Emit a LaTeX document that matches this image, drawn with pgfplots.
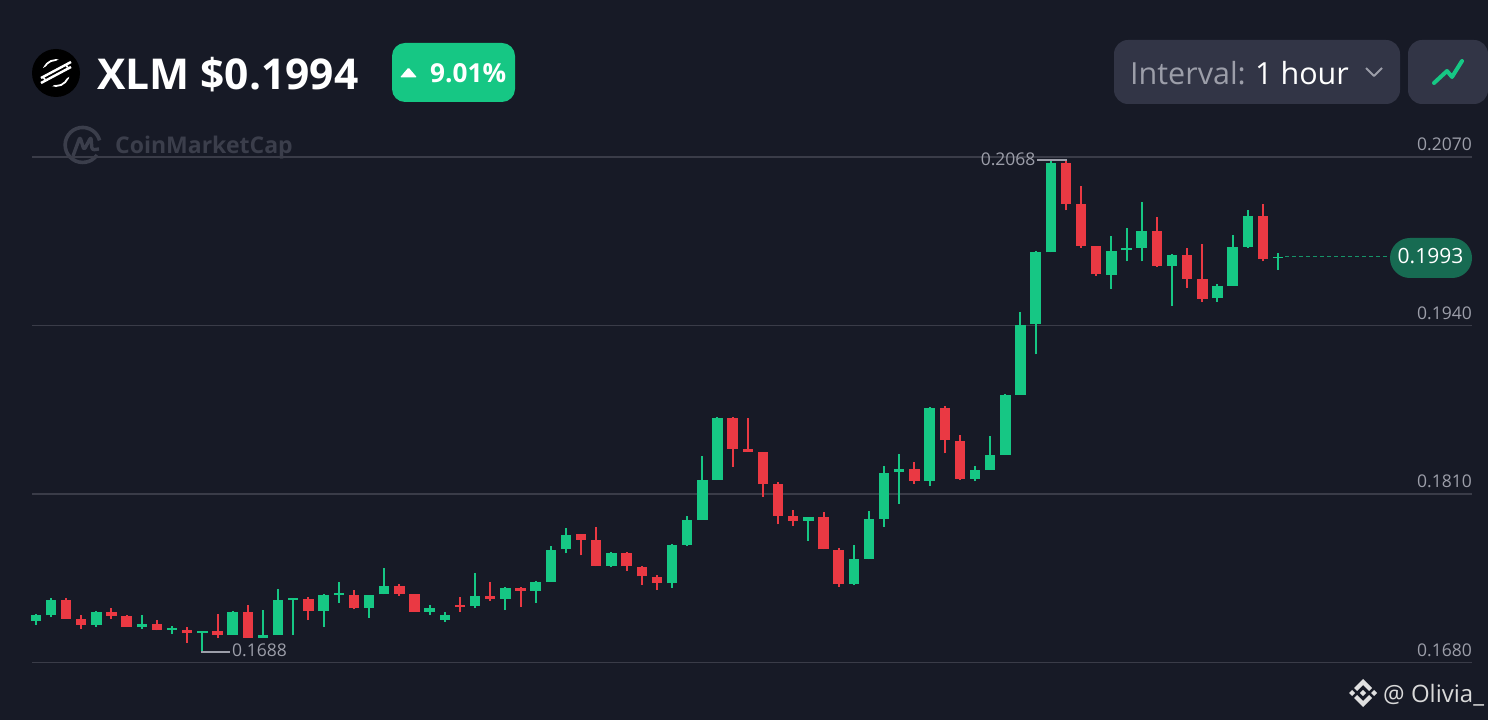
\documentclass[border=0pt]{standalone}
\usepackage{fontspec}
\setmainfont{Open Sans}
\usepackage{pgfplots}
\usepackage{pgfplotstable}
\pgfplotsset{compat=1.18}
\definecolor{bg}{HTML}{171A26}
\definecolor{up}{HTML}{16C784}
\definecolor{down}{HTML}{EA3943}
\definecolor{gridc}{HTML}{3A3C48}
\definecolor{muted}{HTML}{9C9EA9}
\definecolor{btn}{HTML}{323546}
\definecolor{wm}{HTML}{3B3E4B}
\definecolor{pill}{HTML}{176B52}
\pgfplotstableread{
x bb bt wb wt
0 0.17122 0.17164 0.17092 0.17174
1 0.17164 0.17280 0.17149 0.17295
4 0.17092 0.17187 0.17076 0.17197
7 0.17072 0.17095 0.17061 0.17164
9 0.17053 0.17066 0.17022 0.17082
11 0.17028 0.17043 0.16880 0.17043
13 0.17012 0.17190 0.17012 0.17195
15 0.16989 0.17010 0.16989 0.17205
16 0.17012 0.17280 0.17012 0.17367
17 0.17282 0.17295 0.17012 0.17295
19 0.17197 0.17321 0.17076 0.17326
20 0.17323 0.17336 0.17261 0.17419
22 0.17220 0.17323 0.17143 0.17323
23 0.17326 0.17388 0.17326 0.17527
26 0.17190 0.17223 0.17169 0.17246
27 0.17128 0.17164 0.17112 0.17190
29 0.17234 0.17313 0.17220 0.17488
31 0.17290 0.17372 0.17205 0.17385
33 0.17354 0.17421 0.17261 0.17426
34 0.17421 0.17668 0.17421 0.17699
35 0.17673 0.17786 0.17642 0.17835
38 0.17547 0.17647 0.17534 0.17655
42 0.17411 0.17709 0.17377 0.17714
43 0.17707 0.17897 0.17701 0.17928
44 0.17902 0.18206 0.17902 0.18397
45 0.18208 0.18684 0.18208 0.18696
51 0.17894 0.17925 0.17740 0.17925
54 0.17406 0.17601 0.17396 0.17707
55 0.17601 0.17905 0.17596 0.17969
56 0.17909 0.18264 0.17848 0.18316
57 0.18267 0.18295 0.18025 0.18406
59 0.18203 0.18761 0.18164 0.18769
62 0.18218 0.18283 0.18200 0.18316
63 0.18285 0.18399 0.18285 0.18547
64 0.18399 0.18866 0.18399 0.18871
65 0.18866 0.19406 0.18866 0.19506
66 0.19412 0.19965 0.19178 0.19977
67 0.19965 0.20654 0.19965 0.20669
71 0.19792 0.19977 0.19684 0.20090
72 0.19980 0.19996 0.19895 0.20150
73 0.20000 0.20127 0.19895 0.20351
75 0.19861 0.19942 0.19553 0.19949
78 0.19610 0.19705 0.19584 0.19718
79 0.19707 0.20006 0.19707 0.20098
80 0.20008 0.20243 0.20000 0.20289
82 0.19923 0.19931 0.19831 0.19957
}\greentable
\pgfplotstableread{
x bb bt wb wt
2 0.17136 0.17282 0.17136 0.17295
3 0.17092 0.17133 0.17061 0.17164
5 0.17159 0.17190 0.17136 0.17218
6 0.17072 0.17156 0.17072 0.17164
8 0.17053 0.17095 0.17048 0.17126
10 0.17025 0.17051 0.16953 0.17076
12 0.17012 0.17043 0.16989 0.17174
14 0.16991 0.17187 0.16991 0.17246
18 0.17197 0.17292 0.17126 0.17305
21 0.17220 0.17321 0.17210 0.17357
24 0.17331 0.17388 0.17315 0.17406
25 0.17192 0.17331 0.17192 0.17331
28 0.17231 0.17244 0.17192 0.17308
30 0.17290 0.17313 0.17274 0.17419
32 0.17354 0.17375 0.17231 0.17385
36 0.17747 0.17789 0.17627 0.17794
37 0.17547 0.17745 0.17542 0.17848
39 0.17542 0.17647 0.17508 0.17655
40 0.17465 0.17539 0.17398 0.17545
41 0.17413 0.17460 0.17359 0.17473
46 0.18447 0.18684 0.18311 0.18696
47 0.18424 0.18445 0.18424 0.18686
48 0.18177 0.18424 0.18079 0.18426
49 0.17930 0.18175 0.17866 0.18195
50 0.17894 0.17930 0.17853 0.17974
52 0.17673 0.17925 0.17673 0.17959
53 0.17408 0.17670 0.17385 0.17683
58 0.18200 0.18293 0.18179 0.18347
60 0.18514 0.18761 0.18414 0.18779
61 0.18216 0.18511 0.18210 0.18557
68 0.20340 0.20654 0.20289 0.20680
69 0.20013 0.20335 0.20000 0.20479
70 0.19795 0.20011 0.19780 0.20016
74 0.19861 0.20127 0.19854 0.20239
76 0.19761 0.19942 0.19692 0.19998
77 0.19607 0.19759 0.19584 0.20029
81 0.19913 0.20243 0.19895 0.20337
}\redtable
\newcommand{\candles}[2]{%
  \addplot[draw=none,mark=none,forget plot,error bars/.cd,y dir=plus,y explicit,error mark=none,
    error bar style={line width=2pt,color=#2}]
    table[x=x,y=wb,y error plus expr=\thisrow{wt}-\thisrow{wb}] {#1};
  \addplot[draw=none,mark=none,forget plot,error bars/.cd,y dir=plus,y explicit,error mark=none,
    error bar style={line width=10.4pt,color=#2}]
    table[x=x,y=bb,y error plus expr=\thisrow{bt}-\thisrow{bb}] {#1};
}
\begin{document}
\begin{tikzpicture}
\path[use as bounding box,fill=bg] (0,0) rectangle (1488pt,720pt);
\begin{scope}[x=1pt,y=-1pt,shift={(0pt,720pt)}]
  % watermark
  \draw[wm,line width=3.6pt] (97,155) arc[start angle=35,end angle=345,radius=17.5];
  \draw[wm,line width=3.4pt,line join=round,rounded corners=2.5pt] (73,156) -- (80,137) -- (84,150) -- (91,137) -- (92,150) -- (99,149);
  \node[anchor=base west,inner sep=0pt,text=wm,font=\fontsize{23}{23}\selectfont\bfseries] at (115,154) {CoinMarketCap};
\end{scope}
\begin{axis}[
  at={(32pt,57.5pt)},anchor=south west,
  scale only axis,width=1440pt,height=505.5pt,
  xmin=-0.2442,xmax=94.8,ymin=0.1680,ymax=0.2070,
  clip=false,
  axis line style={draw=none},
  major tick length=0pt,
  xtick=\empty,
  ytick={0.1680,0.1810,0.1940,0.2070},
  scaled y ticks=false,
  yticklabel pos=right,
  ymajorgrids,
  grid style={gridc,line width=1.8pt},
  y tick label style={anchor=base east,inner sep=0pt,yshift=6pt,text=muted,
    font=\fontsize{17.5}{18}\selectfont,
    /pgf/number format/fixed,/pgf/number format/fixed zerofill,/pgf/number format/precision=4,
    /pgf/number format/assume math mode=true},
]
\candles{\greentable}{up}
\candles{\redtable}{down}
\addplot[up!70!bg,line width=1.2pt,dash pattern=on 4pt off 3pt,forget plot] coordinates {(82.46,0.1993) (89.4,0.1993)};
\addplot[muted,line width=2pt,forget plot] coordinates {(10.9,0.1688) (12.85,0.1688)};
\addplot[muted,line width=2pt,forget plot] coordinates {(66.1,0.2068) (68.1,0.2068)};
\node[anchor=base east,inner sep=0pt,text=muted,font=\fontsize{17.5}{18}\selectfont] at (axis cs:66.0,0.20633) {0.2068};
\node[anchor=base west,inner sep=0pt,text=muted,font=\fontsize{17.5}{18}\selectfont] at (axis cs:12.95,0.16848) {0.1688};
\end{axis}
\begin{scope}[x=1pt,y=-1pt,shift={(0pt,720pt)}]
  % logo
  \fill[black] (56,73) circle[radius=24];
  \begin{scope}
    \clip (56,73) circle[radius=17];
    \draw[white,line width=1.8pt] (56,73) circle[radius=13];
    \fill[black] (36,85) -- (76,63) -- (76,73) -- (36,95) -- cycle;
    \fill[black] (36,72) -- (76,50) -- (76,60) -- (36,82) -- cycle;
  \end{scope}
  \draw[white,line width=2.4pt] (41,83) -- (71,67);
  \draw[white,line width=2.4pt] (41,78) -- (71,62);
  % title
  \node[anchor=base west,inner sep=0pt,text=white,font=\fontsize{42.5}{43}\selectfont\bfseries] at (97,90) {XLM \$0.1994};
  % badge
  \fill[up,rounded corners=13pt] (392,43) rectangle (515,102);
  \fill[white,rounded corners=1pt] (400,77.5) -- (408.5,67.5) -- (417,77.5) -- cycle;
  \node[anchor=base west,inner sep=0pt,text=white,font=\fontsize{26.2}{27}\selectfont\bfseries] at (430,82.5) {9.01\%};
  % interval
  \fill[btn,rounded corners=14pt] (1114,40) rectangle (1400,104);
  \node[anchor=base west,inner sep=0pt,text=muted,font=\fontsize{30.5}{31}\selectfont] at (1130,85) {Interval:};
  \node[anchor=base west,inner sep=0pt,text=white,font=\fontsize{30.5}{31}\selectfont] at (1255,85) {1 hour};
  \draw[muted,line width=2pt,line join=round] (1366,68) -- (1374,76) -- (1382,68);
  \fill[btn,rounded corners=14pt] (1408,40) rectangle (1488,104);
  \draw[up,line width=4pt,line cap=round,line join=round] (1434,83) -- (1447,71) -- (1452,77) -- (1462,61);
  % last price pill
  \fill[pill,rounded corners=19.9pt] (1390,238) rectangle (1472,278);
  \node[anchor=base,inner sep=0pt,text=white,font=\fontsize{21}{21}\selectfont] at (1430.5,263.5) {0.1993};
  % signature
  \begin{scope}[shift={(1363,693)}]
    \fill[white!88!black] (0,-14) -- (9,-5) -- (6,-2) -- (0,-8) -- (-6,-2) -- (-9,-5) -- cycle;
    \fill[white!88!black] (0,14) -- (9,5) -- (6,2) -- (0,8) -- (-6,2) -- (-9,5) -- cycle;
    \fill[white!88!black] (0,-3.2) -- (3.2,0) -- (0,3.2) -- (-3.2,0) -- cycle;
    \fill[white!88!black] (-11,-3) -- (-8,0) -- (-11,3) -- (-14,0) -- cycle;
    \fill[white!88!black] (11,-3) -- (14,0) -- (11,3) -- (8,0) -- cycle;
  \end{scope}
  \node[anchor=base west,inner sep=0pt,text=white!85!black,font=\fontsize{24}{24}\selectfont] at (1383,703) {@ Olivia\_};
\end{scope}
\end{tikzpicture}
\end{document}
